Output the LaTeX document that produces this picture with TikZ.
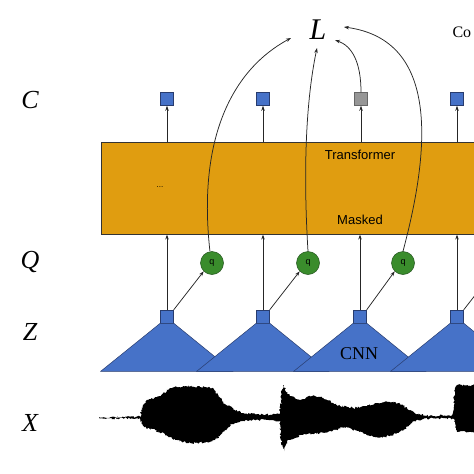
\documentclass[tikz,border=0pt]{standalone}
\usepackage{fontspec}
\setmainfont{Liberation Serif}
\newfontfamily\sansf{Liberation Sans}
\usetikzlibrary{arrows.meta,calc,decorations.pathmorphing}
\definecolor{tforange}{RGB}{224,157,16}
\definecolor{cblue}{RGB}{70,114,200}
\definecolor{cbluedk}{RGB}{40,60,110}
\definecolor{qgreen}{RGB}{58,140,44}
\definecolor{qgreendk}{RGB}{30,80,25}
\definecolor{mgrey}{RGB}{150,150,150}
\tikzset{
  csq/.style={draw=cbluedk,line width=0.5pt,fill=cblue,minimum size=13pt,inner sep=0pt},
  gsq/.style={draw=black!60,line width=0.5pt,fill=mgrey,minimum size=13pt,inner sep=0pt},
  qc/.style={circle,draw=qgreendk,line width=0.5pt,fill=qgreen,minimum size=23pt,inner sep=0pt,font=\sansf\fontsize{9}{9}\selectfont},
  arr/.style={-{Stealth[length=5pt,width=3.5pt]},line width=0.75pt,black!85},
  trap/.style={draw=cbluedk,line width=0.5pt,fill=cblue},
  lbl/.style={font=\fontsize{26}{26}\selectfont\itshape},
  tftxt/.style={font=\sansf\fontsize{13}{13}\selectfont}
}
\begin{document}
\begin{tikzpicture}[x=1pt,y=-1pt]
\useasboundingbox (0,0) rectangle (474,474);
\clip (0,0) rectangle (474,474);
% side labels
\node[lbl] (lC) at (30,100) {C};
\node[lbl] (lQ) at (30,262) {Q};
\node[lbl] (lZ) at (30,332) {Z};
\node[lbl] (lX) at (30,423) {X};
\node[font=\fontsize{30}{30}\selectfont\itshape] (L) at (318,30) {L};
\node[font=\fontsize{16}{16}\selectfont,anchor=west] (co) at (449,32) {Co};
% transformer
\node[draw=black!80,line width=0.6pt,fill=tforange,minimum width=440pt,minimum height=92pt,anchor=north west,inner sep=0pt] (T) at (101,142) {};
\node[tftxt] (tt) at (360,155) {Transformer};
\node[tftxt] (tm) at (360,220) {Masked};
\node[font=\sansf\fontsize{8}{8}\selectfont] (dots) at (160,187) {...};
% C squares
\node[csq] (c1) at (167,99) {};
\node[csq] (c2) at (263,99) {};
\node[gsq] (c3) at (361,99) {};
\node[csq] (c4) at (457,99) {};
% Z squares and CNN trapezoids
\foreach \i/\x in {1/167,2/263,3/360,4/457}{
  \node[csq] (z\i) at (\x,316.5) {};
  \draw[trap] (z\i.south west) -- ++(-59.5,48) -- ++(132,0) -- (z\i.south east) -- cycle;
}
\node[font=\fontsize{18}{18}\selectfont] (cnn) at (359,354) {CNN};
% q circles
\node[qc] (q1) at (212,263) {q};
\node[qc] (q2) at (308,263) {q};
\node[qc] (q3) at (403,263) {q};
\coordinate (q4) at (494,271);
% arrows
\foreach \i in {1,2,3,4}{
  \draw[arr] (z\i.north) -- (z\i.north |- T.south);
  \draw[arr] (T.north -| c\i.south) -- (c\i.south);
}
\foreach \i in {1,2,3}{
  \draw[arr] (z\i.north east) -- (q\i.225);
}
\draw[arr] (z4.north east) -- (q4);
% to L
\coordinate (la) at (291,38);
\coordinate (lb) at (317,48);
\coordinate (lc) at (335,40);
\coordinate (ld) at (344,27);
\draw[arr] (q1.100) .. controls (198,145) and (228,72) .. (la);
\draw[arr] (q2.north) .. controls (303,170) and (306,100) .. (lb);
\draw[arr] (c3.north) .. controls (361,62) and (352,46) .. (lc);
\draw[arr] (q3.north) .. controls (430,150) and (440,40) .. (ld);
% waveform
\coordinate (w0) at (99,417.5);
\fill[black,decorate,decoration={random steps,segment length=1.2pt,amplitude=1.1pt}]
 (w0) -- (140,416.8) -- (142,408) -- (146,401) -- (160,396) -- (170,388) -- (185,386) -- (200,387) -- (213,388)
 -- (218,396) -- (225,404) -- (235,410) -- (243,413) -- (250,414) -- (270,414.6) -- (280,413) -- (282,390)
 -- (284,385) -- (286,392) -- (290,396) -- (300,400) -- (310,396) -- (320,397) -- (327,400) -- (340,406)
 -- (355,408) -- (365,406) -- (377,403) -- (390,402) -- (400,404) -- (410,410) -- (417,414) -- (425,415.6)
 -- (453,416) -- (455,390) -- (457,385) -- (480,385)
 -- (480,432) -- (457,432) -- (455,422) -- (453,418.4) -- (425,418.6) -- (418,420) -- (412,423) -- (405,429)
 -- (390,436) -- (375,437) -- (365,434) -- (355,430) -- (345,427) -- (335,430) -- (320,433) -- (305,434)
 -- (295,438) -- (287,441) -- (284,451) -- (281,440) -- (280,421) -- (270,420) -- (250,420) -- (240,421)
 -- (232,424) -- (225,430) -- (220,436) -- (210,442) -- (190,443) -- (175,440) -- (165,434) -- (155,430)
 -- (146,428) -- (142,424) -- (140,418.2) -- (99,418.2) -- cycle;
\end{tikzpicture}
\end{document}
